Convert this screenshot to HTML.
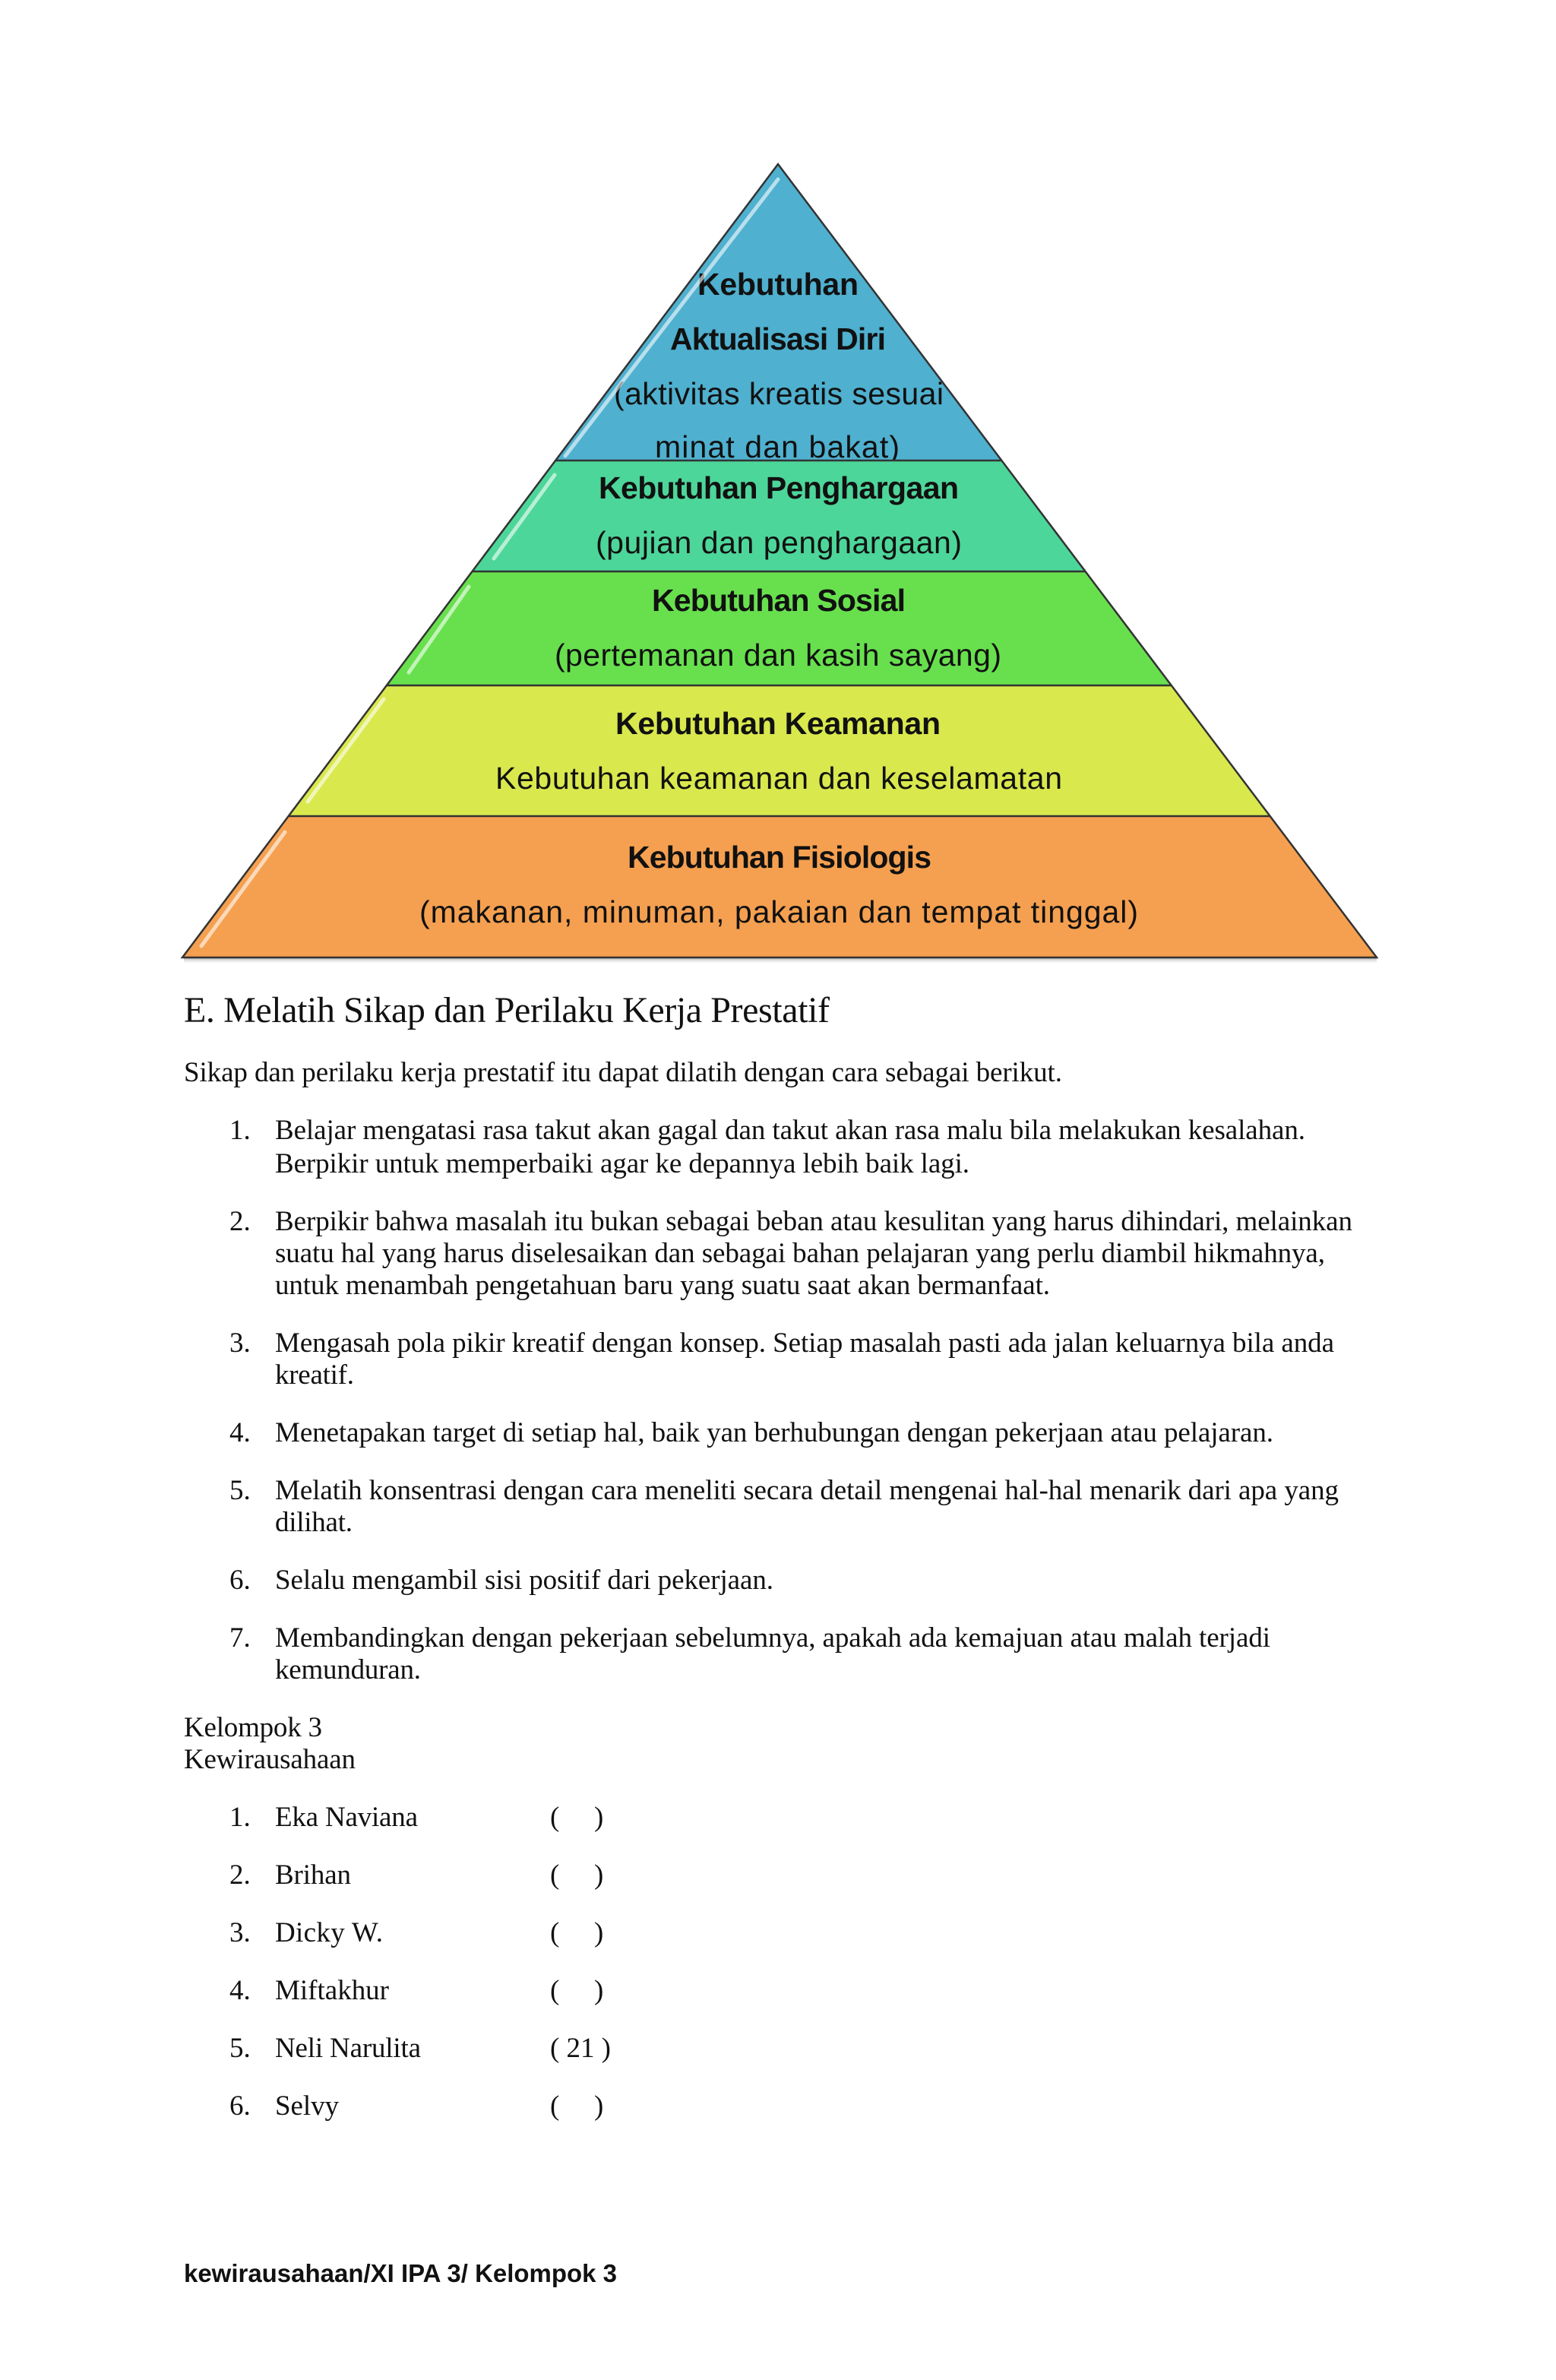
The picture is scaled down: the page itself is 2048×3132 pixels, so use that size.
<!DOCTYPE html>
<html><head><meta charset="utf-8"><style>html,body{margin:0;padding:0;background:#fff}svg{display:block}</style></head><body>
<svg width="2048" height="3132" viewBox="0 0 2048 3132" xmlns="http://www.w3.org/2000/svg">
<defs>
<clipPath id="pyr"><polygon points="1024,216 1812,1260 240,1260"/></clipPath>
<linearGradient id="sh" x1="0" y1="0" x2="0" y2="1"><stop offset="0" stop-color="#999" stop-opacity="0.7"/><stop offset="1" stop-color="#fff" stop-opacity="0"/></linearGradient>
</defs>
<rect x="242" y="1261" width="1570" height="8" fill="url(#sh)"/>
<g clip-path="url(#pyr)">
<rect x="0" y="200" width="2048" height="406" fill="#4fb0cf"/>
<g font-family="'Liberation Sans',sans-serif" font-size="41" fill="#111" text-anchor="middle" lengthAdjust="spacingAndGlyphs">
<text x="1024" y="388" font-weight="bold" textLength="212">Kebutuhan</text>
<text x="1024" y="460" font-weight="bold" textLength="284">Aktualisasi Diri</text>
<text x="1025" y="532" textLength="434">(aktivitas kreatis sesuai</text>
<text x="1023" y="602" textLength="322">minat dan bakat)</text>
</g>
<rect x="0" y="606" width="2048" height="146" fill="#4dd69a"/>
<rect x="0" y="752" width="2048" height="150" fill="#68e04e"/>
<rect x="0" y="902" width="2048" height="172" fill="#d9e84d"/>
<rect x="0" y="1074" width="2048" height="190" fill="#f5a050"/>
<g stroke="#333" stroke-width="2.5">
<line x1="0" y1="606" x2="2048" y2="606"/>
<line x1="0" y1="752" x2="2048" y2="752"/>
<line x1="0" y1="902" x2="2048" y2="902"/>
<line x1="0" y1="1074" x2="2048" y2="1074"/>
</g>
<g stroke="#fff" stroke-opacity="0.6" stroke-width="5" stroke-linecap="round">
<line x1="1024" y1="236" x2="744" y2="600"/>
<line x1="730" y1="625" x2="650" y2="735"/>
<line x1="617" y1="772" x2="538" y2="885"/>
<line x1="505" y1="920" x2="405" y2="1055"/>
<line x1="375" y1="1095" x2="265" y2="1245"/>
</g>
</g>
<polygon points="1024,216 1812,1260 240,1260" fill="none" stroke="#333" stroke-width="2.5"/>
<g font-family="'Liberation Sans',sans-serif" font-size="41" fill="#111" text-anchor="middle" lengthAdjust="spacingAndGlyphs">
<text x="1025" y="656" font-weight="bold" textLength="474">Kebutuhan Penghargaan</text>
<text x="1025" y="728" textLength="482">(pujian dan penghargaan)</text>
<text x="1025" y="804" font-weight="bold" textLength="334">Kebutuhan Sosial</text>
<text x="1024" y="876" textLength="588">(pertemanan dan kasih sayang)</text>
<text x="1024" y="966" font-weight="bold" textLength="428">Kebutuhan Keamanan</text>
<text x="1025" y="1038" textLength="746">Kebutuhan keamanan dan keselamatan</text>
<text x="1026" y="1142" font-weight="bold" textLength="400">Kebutuhan Fisiologis</text>
<text x="1025" y="1214" textLength="946">(makanan, minuman, pakaian dan tempat tinggal)</text>
</g>
<g font-family="'Liberation Serif',serif" font-size="37" fill="#111" lengthAdjust="spacingAndGlyphs">
<text x="242" y="1345" font-size="48" textLength="850">E. Melatih Sikap dan Perilaku Kerja Prestatif</text>
<text x="242" y="1423" textLength="1156">Sikap dan perilaku kerja prestatif itu dapat dilatih dengan cara sebagai berikut.</text>
<text x="302" y="1499">1.</text>
<text x="362" y="1499" textLength="1356">Belajar mengatasi rasa takut akan gagal dan takut akan rasa malu bila melakukan kesalahan.</text>
<text x="362" y="1543" textLength="914">Berpikir untuk memperbaiki agar ke depannya lebih baik lagi.</text>
<text x="302" y="1619">2.</text>
<text x="362" y="1619" textLength="1418">Berpikir bahwa masalah itu bukan sebagai beban atau kesulitan yang harus dihindari, melainkan</text>
<text x="362" y="1661" textLength="1382">suatu hal yang harus diselesaikan dan sebagai bahan pelajaran yang perlu diambil hikmahnya,</text>
<text x="362" y="1703" textLength="1020">untuk menambah pengetahuan baru yang suatu saat akan bermanfaat.</text>
<text x="302" y="1779">3.</text>
<text x="362" y="1779" textLength="1394">Mengasah pola pikir kreatif dengan konsep. Setiap masalah pasti ada jalan keluarnya bila anda</text>
<text x="362" y="1821" textLength="104">kreatif.</text>
<text x="302" y="1897">4.</text>
<text x="362" y="1897" textLength="1314">Menetapakan target di setiap hal, baik yan berhubungan dengan pekerjaan atau pelajaran.</text>
<text x="302" y="1973">5.</text>
<text x="362" y="1973" textLength="1400">Melatih konsentrasi dengan cara meneliti secara detail mengenai hal-hal menarik dari apa yang</text>
<text x="362" y="2015" textLength="102">dilihat.</text>
<text x="302" y="2091">6.</text>
<text x="362" y="2091" textLength="656">Selalu mengambil sisi positif dari pekerjaan.</text>
<text x="302" y="2167">7.</text>
<text x="362" y="2167" textLength="1310">Membandingkan dengan pekerjaan sebelumnya, apakah ada kemajuan atau malah terjadi</text>
<text x="362" y="2209" textLength="192">kemunduran.</text>
<text x="242" y="2285" textLength="182">Kelompok 3</text>
<text x="242" y="2327" textLength="226">Kewirausahaan</text>
<text x="302" y="2403">1.</text><text x="362" y="2403" textLength="188">Eka Naviana</text><text x="724" y="2403">(</text><text x="782" y="2403">)</text>
<text x="302" y="2479">2.</text><text x="362" y="2479" textLength="100">Brihan</text><text x="724" y="2479">(</text><text x="782" y="2479">)</text>
<text x="302" y="2555">3.</text><text x="362" y="2555" textLength="142">Dicky W.</text><text x="724" y="2555">(</text><text x="782" y="2555">)</text>
<text x="302" y="2631">4.</text><text x="362" y="2631" textLength="150">Miftakhur</text><text x="724" y="2631">(</text><text x="782" y="2631">)</text>
<text x="302" y="2707">5.</text><text x="362" y="2707" textLength="192">Neli Narulita</text><text x="724" y="2707" textLength="80">( 21 )</text>
<text x="302" y="2783">6.</text><text x="362" y="2783" textLength="84">Selvy</text><text x="724" y="2783">(</text><text x="782" y="2783">)</text>
</g>
<text x="242" y="3003" font-family="'Liberation Sans',sans-serif" font-weight="bold" font-size="33" fill="#111" textLength="570" lengthAdjust="spacingAndGlyphs">kewirausahaan/XI IPA 3/ Kelompok 3</text>
</svg>
</body></html>
